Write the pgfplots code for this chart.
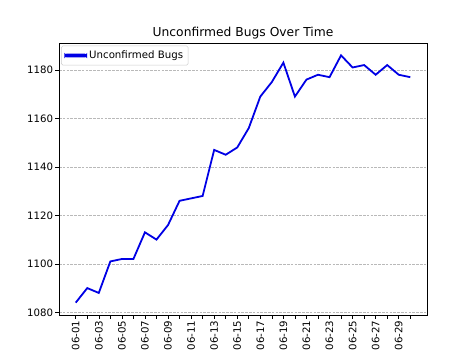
\documentclass[border=0pt]{standalone}
\usepackage{pgfplots}
\pgfplotsset{compat=1.18}
\usepackage{fontspec}
\setmainfont{DejaVu Sans}
\definecolor{lineblue}{rgb}{0.0,0.0,0.9}
\pgfplotsset{
  mylegend/.style={legend image code/.code={\fill[lineblue] (0pt,-0.95pt) rectangle (21pt,0.95pt);}}
}
\pgfplotstableread{
day value
1 1084
2 1090
3 1088
4 1101
5 1102
6 1102
7 1113
8 1110
9 1116
10 1126
11 1127
12 1128
13 1147
14 1145
15 1148
16 1156
17 1169
18 1175
19 1183
20 1169
21 1176
22 1178
23 1177
24 1186
25 1181
26 1182
27 1178
28 1182
29 1178
30 1177
}\datatable
\begin{document}
\begin{tikzpicture}[x=1pt,y=1pt]
\clip (0,0) rectangle (474,355);
\path[use as bounding box] (0,0) rectangle (474,355);
\begin{axis}[
  at={(59pt,40pt)}, anchor=south west,
  scale only axis, width=368pt, height=272pt,
  xmin=-0.45, xmax=31.45,
  ymin=1078.9, ymax=1191.1,
  xtick={1,...,30},
  xticklabels={06-01,,06-03,,06-05,,06-07,,06-09,,06-11,,06-13,,06-15,,06-17,,06-19,,06-21,,06-23,,06-25,,06-27,,06-29,},
  x tick label style={rotate=90, anchor=east, inner sep=2pt, font=\fontsize{10.2}{11}\selectfont},
  ytick={1080,1100,...,1180},
  y tick label style={font=\fontsize{10.2}{11}\selectfont, inner sep=2pt},
  /pgf/number format/assume math mode=true,
  /pgf/number format/1000 sep={},
  tick align=outside, tick pos=left,
  major tick length=3.6pt,
  every tick/.style={black, line width=0.6pt},
  axis line style={line width=0.6pt},
  ymajorgrids,
  grid style={gray!55, dash pattern=on 2.6pt off 1.2pt, line width=0.5pt},
  title={Unconfirmed Bugs Over Time},
  title style={font=\fontsize{12.3}{14}\selectfont, at={(0.5,1)}, anchor=base, yshift=0pt},
  legend style={font=\fontsize{10.2}{11}\selectfont, draw=gray!40, rounded corners=1.5pt, inner sep=3pt, at={(0.006,0.99)}, anchor=north west},
  legend cell align=left,
]
\addplot[color=lineblue, line width=1.8pt, no marks, mylegend] table[x=day,y=value]{\datatable};
\addlegendentry{Unconfirmed Bugs}
\end{axis}
\end{tikzpicture}
\end{document}
